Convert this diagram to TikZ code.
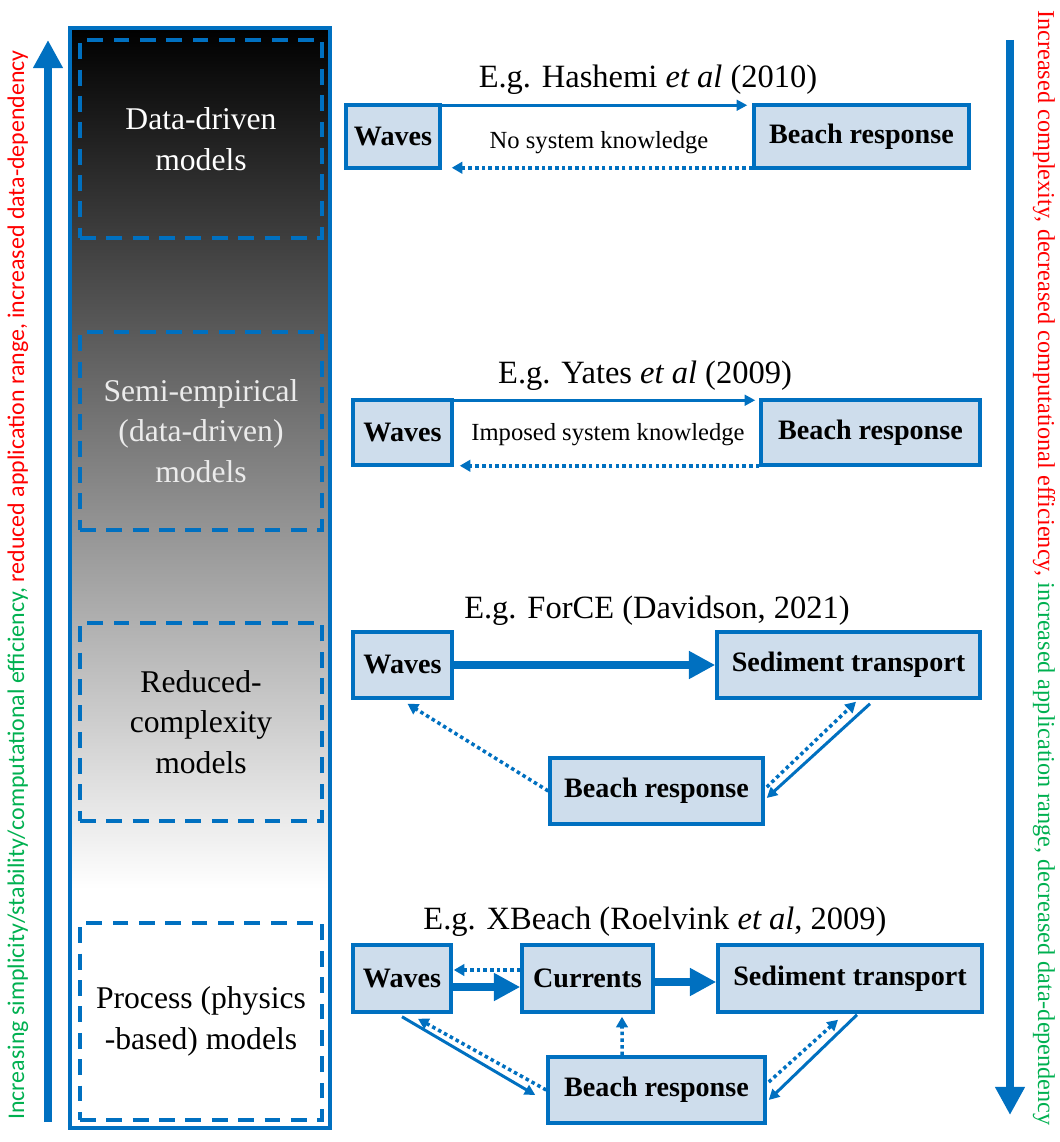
\documentclass[tikz,border=0pt]{standalone}
\usepackage{fontspec}
\setmainfont{Liberation Serif}
\newfontfamily\sidesans{Carlito}
\usepackage{tikz}
\usetikzlibrary{arrows.meta, calc, positioning}
\definecolor{modelblue}{RGB}{0,112,192}
\definecolor{modelfill}{RGB}{206,221,236}
\definecolor{gainsgreen}{RGB}{0,176,80}
\definecolor{lossred}{RGB}{255,0,0}
\tikzset{
	modelbox/.style={draw=modelblue, line width=2pt, fill=modelfill, inner sep=0pt, font=\bfseries\fontsize{16}{19}\selectfont},
	levelbox/.style={draw=modelblue, line width=2pt, dash pattern=on 9pt off 6pt, inner sep=0pt, minimum width=4.84cm, align=center, font=\fontsize{18}{23}\selectfont},
	example/.style={font=\fontsize{18.5}{22}\selectfont},
	knowledge/.style={font=\fontsize{14}{17}\selectfont},
	coupling/.style={color=modelblue, line width=1.7pt, -{Triangle[length=6pt,width=6pt]}},
	feedback/.style={color=modelblue, line width=2pt, dash pattern=on 2pt off 1.8pt, -{Triangle[length=6pt,width=6.5pt]}},
	forcing/.style={color=modelblue, line width=4.8pt, -{Triangle[length=15pt,width=15pt]}},
	trend/.style={color=modelblue, line width=4.5pt, -{Triangle[length=16pt,width=16pt]}}
}

\begin{document}
\begin{tikzpicture}[x=0.02cm, y=-0.02cm]
	\useasboundingbox (0,0) rectangle (1059,1142);
	\shade[top color=black, bottom color=white] (70,28) rectangle (330,889);
	\draw[modelblue, line width=2.2pt] (70,28) rectangle (330,1128);
	\node[levelbox, minimum height=3.96cm, text=white] (lvl1) at (201,139) {Data-driven\\models};
	\node[levelbox, minimum height=3.96cm, text=black!8] (lvl2) at (201,431) {Semi-empirical\\(data-driven)\\models};
	\node[levelbox, minimum height=3.96cm] (lvl3) at (201,722) {Reduced-\\complexity\\models};
	\node[levelbox, minimum height=3.94cm] (lvl4) at (201,1021.5) {Process (physics\\-based) models};

	\coordinate (simplebase) at (48,1122);
	\coordinate (simpletip) at (48,40);
	\draw[trend] (simplebase) -- (simpletip);
	\coordinate (complexbase) at (1010,40);
	\coordinate (complextip) at (1010,1115);
	\draw[trend] (complexbase) -- (complextip);
	\node[rotate=90, font=\sidesans\fontsize{13.6}{16}\selectfont] (lefttext) at (18,585) {\textcolor{gainsgreen}{Increasing simplicity/stability/computational efficiency,} \textcolor{lossred}{reduced application range, increased data-dependency}};
	\node[rotate=-90, font=\fontsize{13.8}{16}\selectfont] (righttext) at (1044,568) {\textcolor{lossred}{Increased complexity, decreased computational efficiency,} \textcolor{gainsgreen}{increased application range, decreased data-dependency}};

	\node[example] (h1) at (648,80) {E.g. Hashemi \textit{et al} (2010)};
	\node[modelbox, minimum width=1.88cm, minimum height=1.26cm] (w1) at (393,136.5) {Waves};
	\node[modelbox, minimum width=4.3cm, minimum height=1.26cm] (b1) at (861.5,136.5) {Beach response};
	\node[knowledge] (k1) at (599,143) {No system knowledge};
	\draw[coupling] ([yshift=-0.04cm]w1.north east) -- ([xshift=-0.1cm,yshift=-0.04cm]b1.north west);
	\draw[feedback] ([yshift=0.04cm]b1.south west) -- ([xshift=0.2cm,yshift=0.04cm]w1.south east);

	\node[example] (h2) at (645,376) {E.g. Yates \textit{et al} (2009)};
	\node[modelbox, minimum width=1.98cm, minimum height=1.3cm] (w2) at (402.5,432.5) {Waves};
	\node[modelbox, minimum width=4.38cm, minimum height=1.3cm] (b2) at (870.5,432.5) {Beach response};
	\node[knowledge] (k2) at (608,435) {Imposed system knowledge};
	\draw[coupling] ([yshift=-0.04cm]w2.north east) -- ([xshift=-0.08cm,yshift=-0.04cm]b2.north west);
	\draw[feedback] ([yshift=0.02cm]b2.south west) -- ([xshift=0.12cm,yshift=0.02cm]w2.south east);

	\node[example] (h3) at (657,611) {E.g. ForCE (Davidson, 2021)};
	\node[modelbox, minimum width=1.98cm, minimum height=1.32cm] (w3) at (402.5,665) {Waves};
	\node[modelbox, minimum width=5.26cm, minimum height=1.32cm] (s3) at (848.5,665) {Sediment transport};
	\node[modelbox, minimum width=4.26cm, minimum height=1.32cm] (r3) at (656.5,791) {Beach response};
	\draw[forcing] (w3.east) -- (s3.west);
	\draw[feedback] (r3.west) -- ([xshift=0.1cm,yshift=-0.08cm]w3.south);
	\draw[coupling] ([xshift=0.43cm,yshift=-0.08cm]s3.south) -- ([xshift=0.04cm,yshift=-0.14cm]r3.east);
	\draw[feedback] ([xshift=0.04cm,yshift=0.08cm]r3.east) -- ([xshift=0.15cm,yshift=-0.04cm]s3.south);

	\node[example] (h4) at (655,922) {E.g. XBeach (Roelvink \textit{et al}, 2009)};
	\node[modelbox, minimum width=1.96cm, minimum height=1.34cm] (w4) at (402,978.5) {Waves};
	\node[modelbox, minimum width=2.62cm, minimum height=1.34cm] (c4) at (587.5,978.5) {Currents};
	\node[modelbox, minimum width=5.28cm, minimum height=1.34cm] (s4) at (850,978.5) {Sediment transport};
	\node[modelbox, minimum width=4.34cm, minimum height=1.32cm] (r4) at (656.5,1090) {Beach response};
	\draw[forcing] ([yshift=-0.17cm]w4.east) -- ([yshift=-0.17cm]c4.west);
	\draw[feedback] ([yshift=0.17cm]c4.west) -- ([xshift=0.02cm,yshift=0.17cm]w4.east);
	\draw[forcing] ([yshift=-0.07cm]c4.east) -- ([yshift=-0.07cm]s4.west);
	\draw[coupling] ([yshift=-0.06cm]w4.south) -- ([xshift=-0.22cm,yshift=-0.1cm]r4.west);
	\draw[feedback] (r4.west) -- ([xshift=0.32cm,yshift=-0.1cm]w4.south);
	\draw[feedback] ([xshift=-0.69cm]r4.north) -- ([xshift=0.69cm,yshift=-0.06cm]c4.south);
	\draw[coupling] ([xshift=0.14cm,yshift=-0.02cm]s4.south) -- ([xshift=0.04cm,yshift=-0.2cm]r4.east);
	\draw[feedback] ([xshift=0.04cm,yshift=0.16cm]r4.east) -- ([xshift=-0.24cm,yshift=-0.12cm]s4.south);
\end{tikzpicture}
\end{document}
